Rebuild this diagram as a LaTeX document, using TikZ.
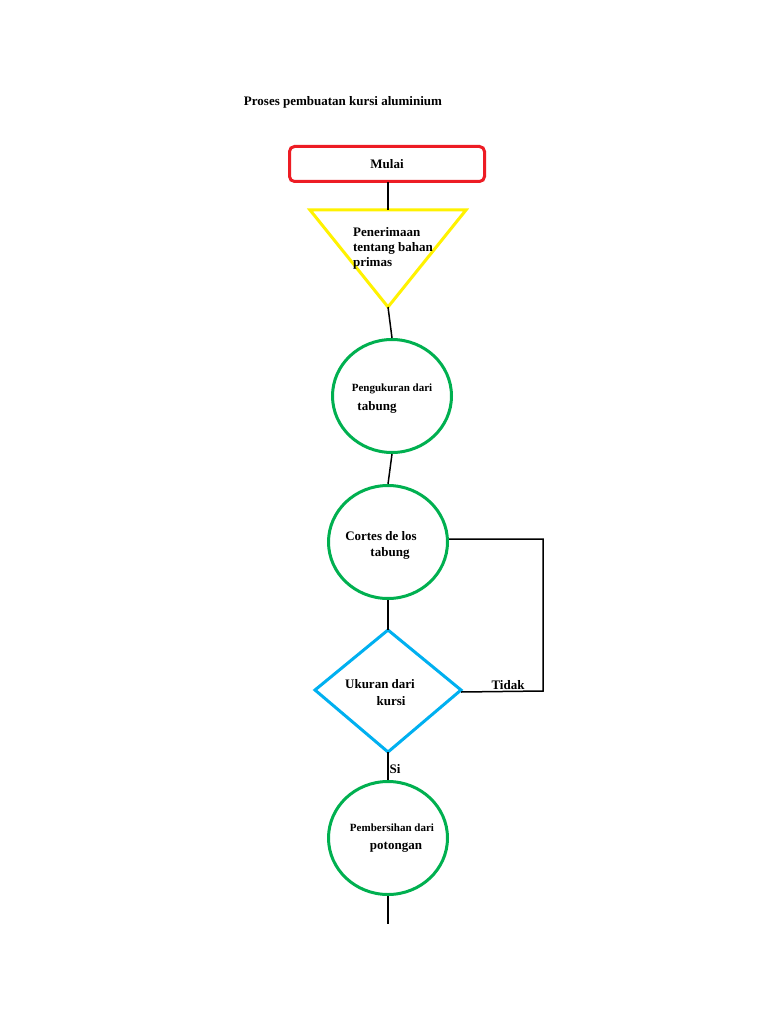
\documentclass[tikz,border=0pt]{standalone}
\usepackage{fontspec}
\setmainfont{Liberation Serif}
\definecolor{cred}{RGB}{237,28,36}
\definecolor{cyel}{RGB}{255,242,0}
\definecolor{cgreen}{RGB}{0,176,80}
\definecolor{ccyan}{RGB}{0,176,240}
\tikzset{lbl/.style={font=\bfseries\fontsize{13}{15}\selectfont},
 sml/.style={font=\bfseries\fontsize{11}{13}\selectfont},
 ln/.style={line width=1.5pt},
 circ/.style={draw=cgreen,line width=3pt,ellipse,minimum width=119pt,minimum height=113pt}}
\usetikzlibrary{shapes.geometric}
\begin{document}
\begin{tikzpicture}[x=1pt,y=-1pt]
\useasboundingbox (0,0) rectangle (768,1024);
\fill[white] (0,0) rectangle (768,1024);
\node[lbl] (title) at (343,102) {Proses pembuatan kursi aluminium};
\node[draw=cred,line width=3pt,rounded corners=5pt,minimum width=195pt,minimum height=35pt] (mulai) at (387,164) {};
\node[lbl] at (mulai) {Mulai};
\draw[draw=cyel,line width=3pt] (310,210) -- (466,210) -- (388,307) -- cycle;
\coordinate (ttop) at (388,210); \coordinate (tbot) at (388,307);
\node[lbl,align=left] (tt) at (393,248) {Penerimaan\\tentang bahan\\primas};
\node[circ] (c1) at (392,396) {};
\node[sml] at (392,389) {Pengukuran dari};
\node[lbl] at (377,407) {tabung};
\node[circ] (c2) at (388,542) {};
\node[lbl] at (381,536) {Cortes de los};
\node[lbl] at (390,553) {tabung};
\draw[draw=ccyan,line width=3pt] (388,630) -- (461,690) -- (388,752) -- (315,690) -- cycle;
\coordinate (dtop) at (388,630); \coordinate (dbot) at (388,752); \coordinate (dright) at (461,692);
\node[lbl] at (380,684) {Ukuran dari};
\node[lbl] at (391,701) {kursi};
\node[circ] (c3) at (388,838) {};
\node[sml] at (392,828) {Pembersihan dari};
\node[lbl] at (396,847) {potongan};
\coordinate (endp) at (388,924);
\draw[ln] (388,182) -- (ttop);
\draw[ln] (tbot) -- (c1.north);
\draw[ln] (c1.south) -- (c2.north);
\draw[ln] (c2.south) -- (dtop);
\draw[ln] (dbot) -- (c3.north);
\draw[ln] (c3.south) -- (endp);
\draw[ln] (c2.east |- 0,539) -- (543,539) -- (543,691) -- (dright);
\node[lbl] at (508,685) {Tidak};
\node[lbl] at (395,769) {Si};
\end{tikzpicture}
\end{document}
